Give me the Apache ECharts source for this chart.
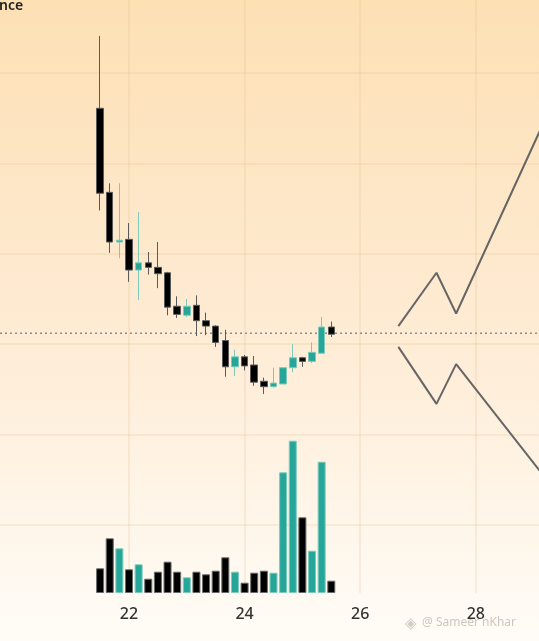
<!DOCTYPE html>
<html>
<head>
<meta charset="utf-8">
<script src="https://cdn.jsdelivr.net/npm/echarts@6/dist/echarts.min.js"></script>
<style>
html,body{margin:0;padding:0;background:#fff;}
#chart{width:539px;height:641px;}
</style>
</head>
<body>
<div id="chart"></div>
<script>
// 4-hour candles (day of month + time)
const times = ['21 12:00','21 16:00','21 20:00','22 00:00','22 04:00','22 08:00','22 12:00','22 16:00','22 20:00',
  '23 00:00','23 04:00','23 08:00','23 12:00','23 16:00','23 20:00','24 00:00','24 04:00','24 08:00',
  '24 12:00','24 16:00','24 20:00','25 00:00','25 04:00','25 08:00','25 12:00'];
const openP  = [961,868,813,816,782,790,785,779,742,732,743,726,720,704,675,686,677,659,653,656,674,685,681,690,719];
const closeP = [867,813,815,782,790,785,778,741,733,742,726,720,702,675,686,676,658,653,657,674,685,681,691,719,711];
const lowP   = [848,801,795,769,749,777,762,732,729,730,709,710,697,664,665,671,654,645,652,656,669,675,679,690,708];
const highP  = [1041,878,878,834,846,802,813,780,753,750,754,735,721,716,694,688,687,663,674,674,700,686,702,730,725];
const volume = [247,547,447,237,287,143,213,313,213,157,213,187,223,357,213,103,203,223,203,1207,1523,757,423,1313,123];
const xTicks = [22,24,26,28];
const lastPrice = 712;
// projected scenario paths
const pathX = [26.66, 27.32, 27.66, 29.46];
const bullY = [720, 779, 734, 985];
const bearY = [697, 634, 678, 531];

function toDay(s){ const [d,t]=s.split(' '); const [h,m]=t.split(':'); return +d + (+h)/24 + (+m)/1440; }
const xs = times.map(toDay);

const X_MIN = 20, X_MAX = 29.0934;
const UP = '#26a69a', UP_B = '#7ccbb9', DOWN = '#000000', DOWN_B = '#5a5a5a';
const candles = xs.map((x,i)=>[x, openP[i], closeP[i], lowP[i], highP[i]]);
const vols = xs.map((x,i)=>{
  const up = closeP[i] >= openP[i];
  return {value:[x, volume[i]], itemStyle:{color: up?UP:DOWN, borderColor: up?UP_B:'#6a6a6a', borderWidth:1}};
});

const lineCol = 'rgba(226,190,140,0.28)';
const chart = echarts.init(document.getElementById('chart'), null, {renderer:'canvas'});
chart.setOption({
  animation:false,
  backgroundColor:{type:'linear',x:0,y:0,x2:0,y2:1,colorStops:[
    {offset:0,color:'#fde0b4'},{offset:0.5,color:'#feebd3'},{offset:1,color:'#fffcf7'}]},
  grid:[
    {left:13.4, right:0, top:73, bottom:116, containLabel:false},
    {left:13.4, right:0, top:0, bottom:48, containLabel:false},
    {left:0, right:0, top:73, bottom:116, containLabel:false}
  ],
  xAxis:[
    {type:'value', gridIndex:0, min:X_MIN, max:X_MAX, interval:2, show:false},
    {type:'value', gridIndex:1, min:X_MIN, max:X_MAX, interval:2,
      axisLine:{show:false}, axisTick:{show:false},
      axisLabel:{show:true, fontSize:16, color:'#333', fontFamily:'Noto Sans', fontWeight:500, margin:13,
        showMinLabel:false, showMaxLabel:false,
        formatter:v=> xTicks.indexOf(v)>=0 ? String(v) : ''},
      splitLine:{show:true, showMinLine:false, showMaxLine:false, lineStyle:{color:lineCol, width:1.5}}},
    {type:'value', gridIndex:2, min:0, max:1, show:false}
  ],
  yAxis:[
    {type:'value', gridIndex:0, min:500, max:1000, interval:100, show:false},
    {type:'value', gridIndex:1, min:0, max:5930, show:false, splitLine:{show:false}},
    {type:'value', gridIndex:2, min:500, max:1000, interval:100,
      axisLine:{show:false}, axisTick:{show:false}, axisLabel:{show:false},
      splitLine:{show:true, lineStyle:{color:lineCol, width:1.5}}}
  ],
  series:[
    {type:'bar', xAxisIndex:1, yAxisIndex:1, data:vols, barWidth:8, clip:false},
    {type:'line', xAxisIndex:2, yAxisIndex:2, data:[[0,lastPrice],[1,lastPrice]], symbol:'none',
      lineStyle:{color:'#8c8c8c', width:1.5, type:[2,3]}, z:1},
    {type:'candlestick', xAxisIndex:0, yAxisIndex:0, data:candles, encode:{x:0,y:[1,2,3,4]},
      barWidth:7, clip:false,
      itemStyle:{color:UP, color0:DOWN, borderColor:UP_B, borderColor0:DOWN_B, borderWidth:1}},
    {type:'line', xAxisIndex:0, yAxisIndex:0, data:pathX.map((x,i)=>[x,bullY[i]]), symbol:'none', clip:false,
      lineStyle:{color:'#666', width:2}},
    {type:'line', xAxisIndex:0, yAxisIndex:0, data:pathX.map((x,i)=>[x,bearY[i]]), symbol:'none', clip:false,
      lineStyle:{color:'#666', width:2}}
  ],
  graphic:[
    {type:'text', left:-1, top:-1, style:{text:'nce', fontSize:14, fontWeight:600, fontFamily:'Noto Sans', fill:'#222'}},
    {type:'text', left:405, top:617, style:{text:'◈', fontSize:15, fontFamily:'DejaVu Sans', fill:'#d2cbc3'}},
    {type:'text', left:422, top:617, style:{text:'@ Sameer nKhar', fontSize:12, fontFamily:'Noto Sans', fill:'#cdc6be'}}
  ]
});
</script>
</body>
</html>
